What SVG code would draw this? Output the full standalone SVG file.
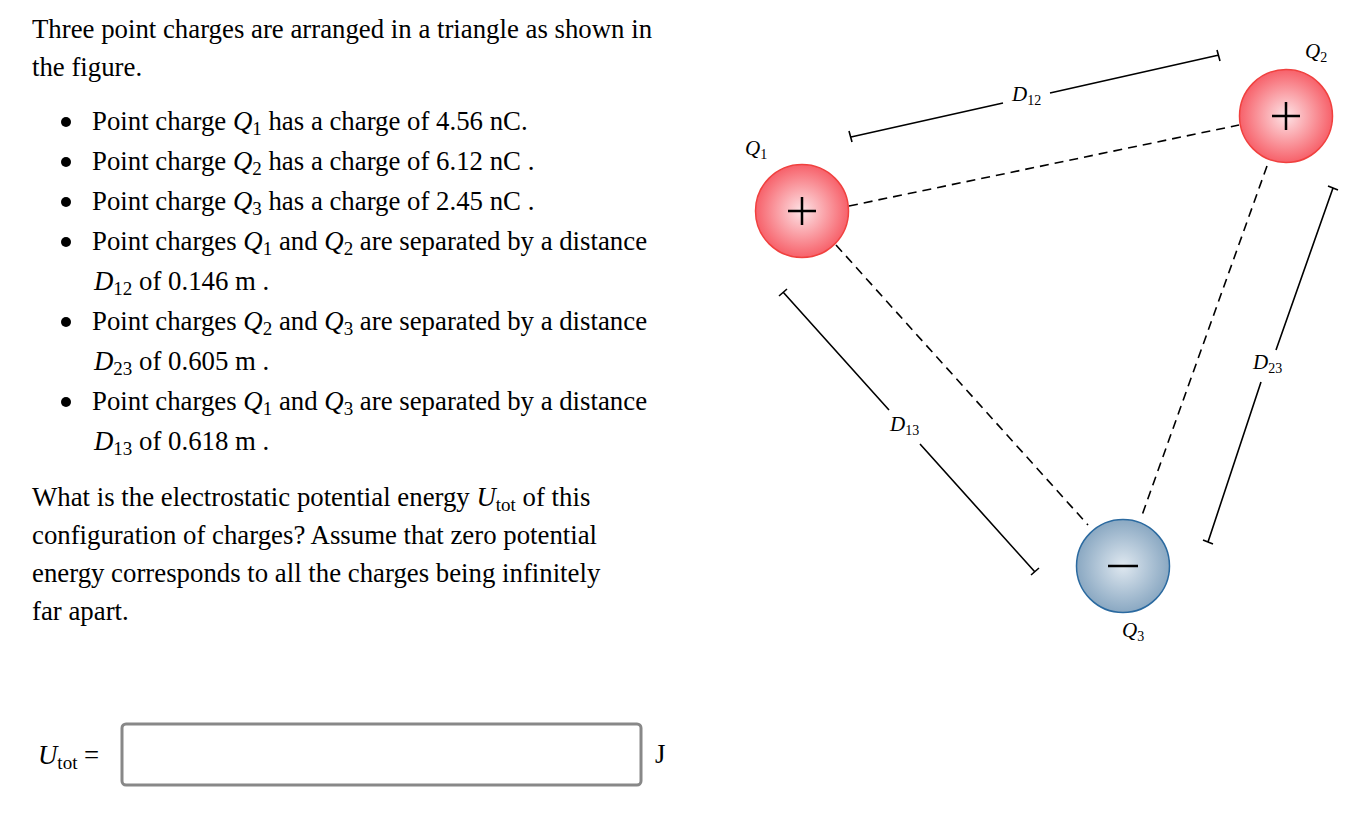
<svg xmlns="http://www.w3.org/2000/svg" width="1356" height="814" viewBox="0 0 1356 814">
<style>
text{font-family:"Liberation Serif","Times New Roman",serif;fill:#000}
.t{font-size:26.8px}
.i{font-style:italic}
.s{font-size:19px;font-style:normal}
.dl{font-size:21px}
.ds{font-size:14px;font-style:normal}
.dash{stroke:#000;stroke-width:1.6;stroke-dasharray:9 6;fill:none}
.dim{stroke:#000;stroke-width:1.6;fill:none}
.sign{stroke:#000;stroke-width:2.5}
</style>
<defs>
<radialGradient id="rg" cx="0.5" cy="0.5" r="0.5"><stop offset="0" stop-color="#fde3e6"/><stop offset="1" stop-color="#f7616a"/></radialGradient>
<radialGradient id="bg" cx="0.5" cy="0.5" r="0.5"><stop offset="0" stop-color="#dfe8f0"/><stop offset="1" stop-color="#8aa8c2"/></radialGradient>
</defs>
<rect width="1356" height="814" fill="#fff"/>
<g id="text">
<text class="t" x="32" y="38">Three point charges are arranged in a triangle as shown in</text>
<text class="t" x="32" y="76">the figure.</text>
<g fill="#000"><circle cx="66" cy="122" r="5"/><circle cx="66" cy="162" r="5"/><circle cx="66" cy="202" r="5"/><circle cx="66" cy="242" r="5"/><circle cx="66" cy="322" r="5"/><circle cx="66" cy="402" r="5"/></g>
<text class="t" x="92" y="130">Point charge <tspan class="i">Q</tspan><tspan class="s" dy="5">1</tspan><tspan dy="-5">  has a charge of 4.56 nC.</tspan></text>
<text class="t" x="92" y="170">Point charge <tspan class="i">Q</tspan><tspan class="s" dy="5">2</tspan><tspan dy="-5">  has a charge of 6.12 nC .</tspan></text>
<text class="t" x="92" y="210">Point charge <tspan class="i">Q</tspan><tspan class="s" dy="5">3</tspan><tspan dy="-5">  has a charge of 2.45 nC .</tspan></text>
<text class="t" x="92" y="250">Point charges <tspan class="i">Q</tspan><tspan class="s" dy="5">1</tspan><tspan dy="-5">  and </tspan><tspan class="i">Q</tspan><tspan class="s" dy="5">2</tspan><tspan dy="-5">  are separated by a distance</tspan></text>
<text class="t" x="94" y="290"><tspan class="i">D</tspan><tspan class="s" dy="5">12</tspan><tspan dy="-5"> of 0.146 m .</tspan></text>
<text class="t" x="92" y="330">Point charges <tspan class="i">Q</tspan><tspan class="s" dy="5">2</tspan><tspan dy="-5">  and </tspan><tspan class="i">Q</tspan><tspan class="s" dy="5">3</tspan><tspan dy="-5">  are separated by a distance</tspan></text>
<text class="t" x="94" y="370"><tspan class="i">D</tspan><tspan class="s" dy="5">23</tspan><tspan dy="-5"> of 0.605 m .</tspan></text>
<text class="t" x="92" y="410">Point charges <tspan class="i">Q</tspan><tspan class="s" dy="5">1</tspan><tspan dy="-5">  and </tspan><tspan class="i">Q</tspan><tspan class="s" dy="5">3</tspan><tspan dy="-5">  are separated by a distance</tspan></text>
<text class="t" x="94" y="450"><tspan class="i">D</tspan><tspan class="s" dy="5">13</tspan><tspan dy="-5"> of 0.618 m .</tspan></text>
<text class="t" x="32" y="506">What is the electrostatic potential energy <tspan class="i">U</tspan><tspan class="s" dy="5">tot</tspan><tspan dy="-5"> of this</tspan></text>
<text class="t" x="32" y="544">configuration of charges? Assume that zero potential</text>
<text class="t" x="32" y="582">energy corresponds to all the charges being infinitely</text>
<text class="t" x="32" y="620">far apart.</text>
</g>
<g id="answer">
<text class="t" x="38" y="764"><tspan class="i">U</tspan><tspan class="s" dy="5">tot</tspan><tspan dy="-5"> =</tspan></text>
<rect x="122" y="724" width="519" height="61" rx="4" fill="#fff" stroke="#888" stroke-width="3"/>
<text class="t" x="655" y="763">J</text>
</g>
<g id="connectors">
<line class="dash" x1="849" y1="206" x2="1239" y2="125"/>
<line class="dash" x1="836" y1="245" x2="1088" y2="525"/>
<line class="dash" x1="1267" y1="166" x2="1141" y2="518"/>
<path class="dim" d="M851 137 L1003 103 M1050 93 L1219 55 M849 131 L852 142 M1217 50 L1220 61"/>
<path class="dim" d="M783 292 L889 410 M920 444 L1035 572 M779 296 L787 289 M1031 575 L1039 568"/>
<path class="dim" d="M1333 188 L1276 350 M1261 382 L1208 542 M1328 186 L1338 190 M1203 540 L1213 544"/>
<text class="dl i" x="1012" y="101">D<tspan class="ds" dy="4">12</tspan></text>
<text class="dl i" x="890" y="431">D<tspan class="ds" dy="4">13</tspan></text>
<text class="dl i" x="1253" y="369">D<tspan class="ds" dy="4">23</tspan></text>
</g>
<g id="Q1">
<circle cx="802" cy="211" r="46.5" fill="url(#rg)" stroke="#f0413f" stroke-width="1.5"/>
<path class="sign" d="M788 211 H816 M802 197 V225"/>
<text class="dl i" x="745" y="155">Q<tspan class="ds" dy="4">1</tspan></text>
</g>
<g id="Q2">
<circle cx="1286" cy="116" r="46.5" fill="url(#rg)" stroke="#f0413f" stroke-width="1.5"/>
<path class="sign" d="M1272 116 H1300 M1286 102 V130"/>
<text class="dl i" x="1305" y="58">Q<tspan class="ds" dy="4">2</tspan></text>
</g>
<g id="Q3">
<circle cx="1123" cy="566" r="46.5" fill="url(#bg)" stroke="#2b6aa0" stroke-width="1.5"/>
<path class="sign" d="M1108 566 H1138"/>
<text class="dl i" x="1122" y="637">Q<tspan class="ds" dy="4">3</tspan></text>
</g>
</svg>
